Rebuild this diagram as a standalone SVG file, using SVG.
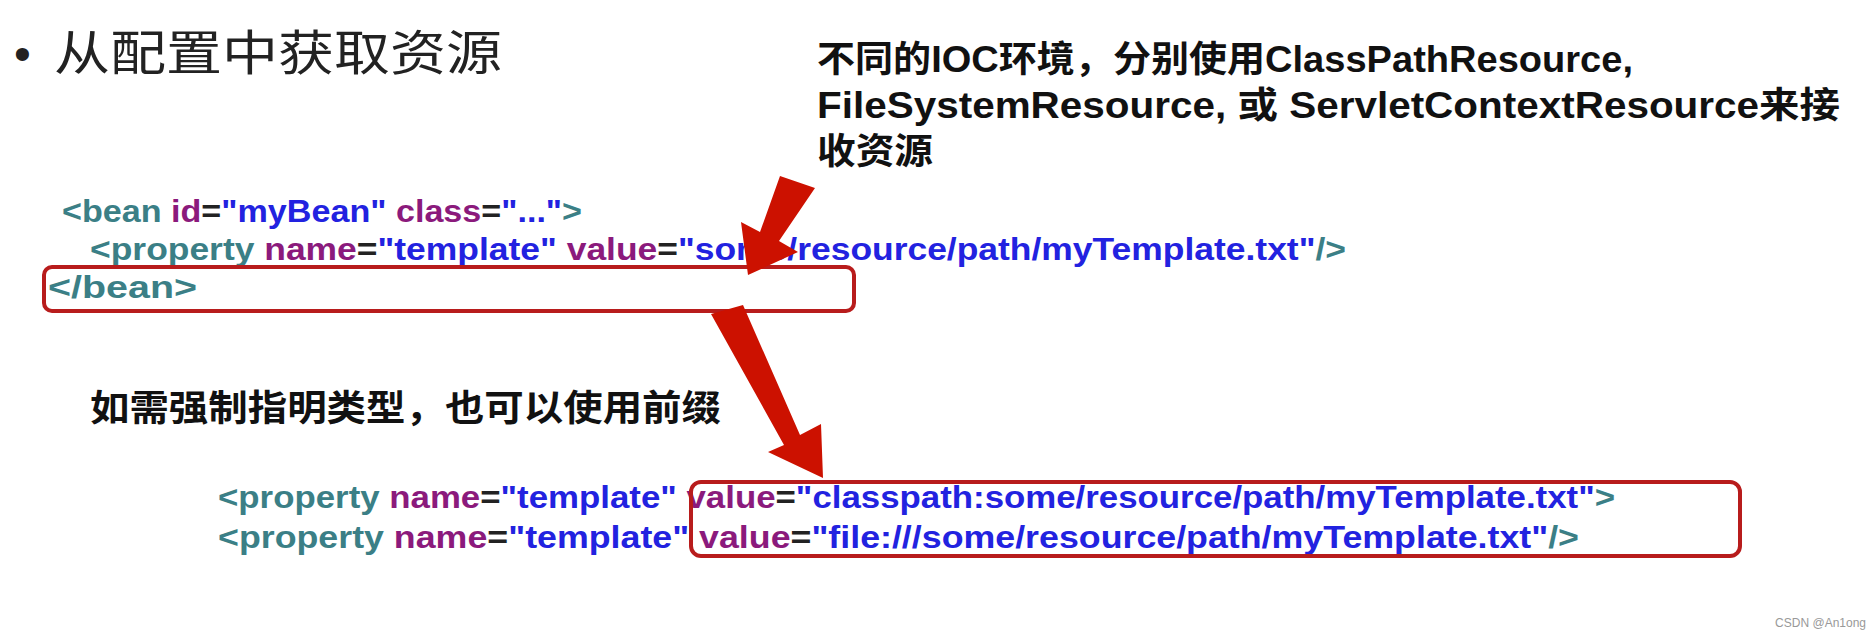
<svg xmlns="http://www.w3.org/2000/svg" width="1875" height="638" viewBox="0 0 1875 638">
<style>
.code{font-family:"Liberation Sans","Noto Sans",sans-serif;font-size:32px;font-weight:bold}
.t{fill:#3b7f86}.a{fill:#8b1a7c}.v{fill:#2222e0}.k{fill:#222}
.note{font-family:"Liberation Sans","Noto Sans CJK SC",sans-serif;font-size:36px;font-weight:bold;fill:#111}
.box{fill:none;stroke:#b81c1c;stroke-width:4}
.arrow{fill:#cc1100}
</style>
<rect width="1875" height="638" fill="#fff"/>
<g id="title">
<text x="14" y="70" font-family="Liberation Sans,sans-serif" font-size="48" fill="#222">•</text>
<text x="54" y="70" font-family="Noto Sans CJK SC,sans-serif" font-size="48" fill="#222" textLength="448" lengthAdjust="spacingAndGlyphs">从配置中获取资源</text>
</g>
<g id="note1">
<text class="note" x="817" y="72" textLength="816" lengthAdjust="spacingAndGlyphs">不同的IOC环境，分别使用ClassPathResource,</text>
<text class="note" x="817" y="118" textLength="1023" lengthAdjust="spacingAndGlyphs">FileSystemResource, 或 ServletContextResource来接</text>
<text class="note" x="817" y="164" textLength="116" lengthAdjust="spacingAndGlyphs">收资源</text>
</g>
<g id="code1">
<text class="code" x="62" y="222" textLength="520" lengthAdjust="spacingAndGlyphs"><tspan class="t">&lt;bean </tspan><tspan class="a">id</tspan><tspan class="k">=</tspan><tspan class="v">"myBean" </tspan><tspan class="a">class</tspan><tspan class="k">=</tspan><tspan class="v">"..."</tspan><tspan class="t">&gt;</tspan></text>
<text class="code" x="90" y="260" textLength="1256" lengthAdjust="spacingAndGlyphs"><tspan class="t">&lt;property </tspan><tspan class="a">name</tspan><tspan class="k">=</tspan><tspan class="v">"template" </tspan><tspan class="a">value</tspan><tspan class="k">=</tspan><tspan class="v">"some/resource/path/myTemplate.txt"</tspan><tspan class="t">/&gt;</tspan></text>
<text class="code" x="48" y="298" textLength="149" lengthAdjust="spacingAndGlyphs"><tspan class="t">&lt;/bean&gt;</tspan></text>
</g>
<g id="box1"><rect class="box" x="44" y="267" width="810" height="44" rx="8"/></g>
<g id="note2">
<text class="note" x="90" y="421" textLength="631" lengthAdjust="spacingAndGlyphs">如需强制指明类型，也可以使用前缀</text>
</g>
<g id="code2">
<text class="code" x="218" y="508" textLength="1397" lengthAdjust="spacingAndGlyphs"><tspan class="t">&lt;property </tspan><tspan class="a">name</tspan><tspan class="k">=</tspan><tspan class="v">"template" </tspan><tspan class="a">value</tspan><tspan class="k">=</tspan><tspan class="v">"classpath:some/resource/path/myTemplate.txt"</tspan><tspan class="t">&gt;</tspan></text>
<text class="code" x="218" y="548" textLength="1361" lengthAdjust="spacingAndGlyphs"><tspan class="t">&lt;property </tspan><tspan class="a">name</tspan><tspan class="k">=</tspan><tspan class="v">"template" </tspan><tspan class="a">value</tspan><tspan class="k">=</tspan><tspan class="v">"file:///some/resource/path/myTemplate.txt"</tspan><tspan class="t">/&gt;</tspan></text>
</g>
<g id="box2"><rect class="box" x="691" y="482" width="1049" height="74" rx="10"/></g>
<g id="connectors">
<polygon class="arrow" points="780,176 815,188 779,241 798,252 748,275 741,222 760,232"/>
<polygon class="arrow" points="711,314 743,305 800,435 821,424 823,478 768,452 784,445"/>
</g>
<g id="watermark">
<text x="1866" y="627" text-anchor="end" font-family="Liberation Sans,sans-serif" font-size="12" fill="#999">CSDN @An1ong</text>
</g>
</svg>
